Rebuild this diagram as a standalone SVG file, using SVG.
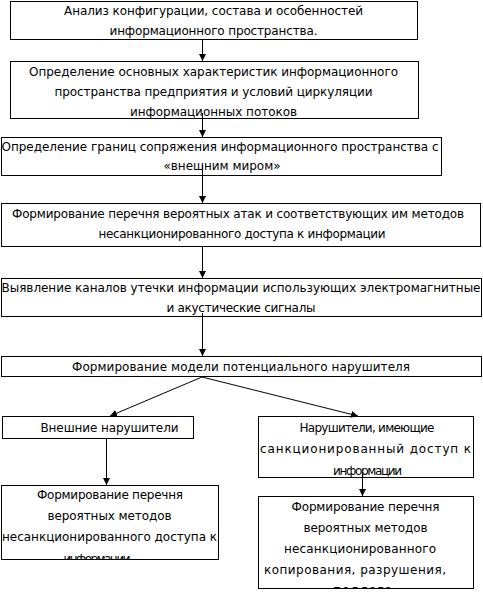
<svg xmlns="http://www.w3.org/2000/svg" width="483" height="597" viewBox="0 0 483 597">
<style>
.box{fill:#fff;stroke:#000;stroke-width:1}
.t{font-family:"DejaVu Sans","Verdana",sans-serif;font-size:12px;fill:#000;text-anchor:middle}
.c{fill:none;stroke:#000;stroke-width:1}
</style>
<defs>
<marker id="ah" markerUnits="userSpaceOnUse" markerWidth="8" markerHeight="8" refX="7" refY="3.5" orient="auto">
<path d="M0,0 L7,3.5 L0,7 z" fill="#000"/>
</marker>
<clipPath id="clipL"><rect x="1" y="485" width="218" height="74"/></clipPath>
<clipPath id="clipR"><rect x="258" y="496" width="215" height="92"/></clipPath>
</defs>
<rect width="483" height="597" fill="#fff"/>

<g id="n1">
<rect class="box" x="10.5" y="1.5" width="407" height="38"/>
<text class="t" x="213.5" y="14.5" textLength="299" lengthAdjust="spacing">Анализ конфигурации, состава и особенностей</text>
<text class="t" x="213.5" y="34.5" textLength="208" lengthAdjust="spacing">информационного пространства.</text>
</g>

<g id="n2">
<rect class="box" x="10.5" y="61.5" width="408" height="57"/>
<text class="t" x="213.5" y="75.5" textLength="369" lengthAdjust="spacing">Определение основных характеристик информационного</text>
<text class="t" x="213.5" y="95.5" textLength="318" lengthAdjust="spacing">пространства предприятия и условий циркуляции</text>
<text class="t" x="213.5" y="116" textLength="167" lengthAdjust="spacing">информационных потоков</text>
</g>

<g id="n3">
<rect class="box" x="1.5" y="137.5" width="440" height="38"/>
<text class="t" x="220" y="150.5" textLength="437" lengthAdjust="spacing">Определение границ сопряжения информационного пространства с</text>
<text class="t" x="222" y="170" textLength="117" lengthAdjust="spacing">«внешним миром»</text>
</g>

<g id="n4">
<rect class="box" x="1.5" y="203.5" width="479" height="43"/>
<text class="t" x="238" y="217.5" textLength="452" lengthAdjust="spacing">Формирование перечня вероятных атак и соответствующих им методов</text>
<text class="t" x="242" y="238" textLength="287" lengthAdjust="spacing">несанкционированного доступа к информации</text>
</g>

<g id="n5">
<rect class="box" x="1.5" y="278.5" width="480" height="38"/>
<text class="t" x="241" y="291.5" textLength="479" lengthAdjust="spacing">Выявление каналов утечки информации использующих электромагнитные</text>
<text class="t" x="241" y="312" textLength="149" lengthAdjust="spacing">и акустические сигналы</text>
</g>

<g id="n6">
<rect class="box" x="1.5" y="356.5" width="480" height="20"/>
<text class="t" x="241" y="370.5" textLength="338" lengthAdjust="spacing">Формирование модели потенциального нарушителя</text>
</g>

<g id="n7">
<rect class="box" x="2.5" y="416.5" width="191" height="22"/>
<text class="t" x="109.5" y="431.5" textLength="138" lengthAdjust="spacing">Внешние нарушители</text>
</g>

<g id="n8">
<rect class="box" x="258.5" y="416.5" width="215" height="61"/>
<text class="t" x="367" y="432" textLength="135" lengthAdjust="spacing">Нарушители, имеющие</text>
<text class="t" x="365.5" y="453" textLength="211" lengthAdjust="spacing">санкционированный доступ к</text>
<text class="t" x="367.5" y="475" textLength="69" lengthAdjust="spacing">информации</text>
</g>

<g id="n9">
<rect class="box" x="1.5" y="485.5" width="217" height="74"/>
<g clip-path="url(#clipL)">
<text class="t" x="110" y="499" textLength="146" lengthAdjust="spacing">Формирование перечня</text>
<text class="t" x="109.5" y="520" textLength="124" lengthAdjust="spacing">вероятных методов</text>
<text class="t" x="109.5" y="541" textLength="215" lengthAdjust="spacing">несанкционированного доступа к</text>
<text class="t" x="97" y="563" textLength="67" lengthAdjust="spacing">информации</text>
</g>
</g>

<g id="n10">
<rect class="box" x="258.5" y="496.5" width="215" height="92"/>
<g clip-path="url(#clipR)">
<text class="t" x="365.5" y="511" textLength="148" lengthAdjust="spacing">Формирование перечня</text>
<text class="t" x="365.5" y="532" textLength="124" lengthAdjust="spacing">вероятных методов</text>
<text class="t" x="360" y="553" textLength="152" lengthAdjust="spacing">несанкционированного</text>
<text class="t" x="355" y="574" textLength="182" lengthAdjust="spacing">копирования, разрушения,</text>
<text class="t" x="362.5" y="594" textLength="59" lengthAdjust="spacing">подлога</text>
</g>
</g>

<g id="connectors">
<line class="c" x1="202.5" y1="39" x2="202.5" y2="61" marker-end="url(#ah)"/>
<line class="c" x1="202.5" y1="113" x2="202.5" y2="137" marker-end="url(#ah)"/>
<line class="c" x1="202.5" y1="165" x2="202.5" y2="203" marker-end="url(#ah)"/>
<line class="c" x1="202.5" y1="246" x2="202.5" y2="278" marker-end="url(#ah)"/>
<line class="c" x1="202.5" y1="313" x2="202.5" y2="356" marker-end="url(#ah)"/>
<line class="c" x1="202" y1="377" x2="110" y2="416" marker-end="url(#ah)"/>
<line class="c" x1="202" y1="377" x2="358" y2="416" marker-end="url(#ah)"/>
<line class="c" x1="106.5" y1="438" x2="106.5" y2="485" marker-end="url(#ah)"/>
<line class="c" x1="362.5" y1="472" x2="362.5" y2="496" marker-end="url(#ah)"/>
</g>
</svg>
